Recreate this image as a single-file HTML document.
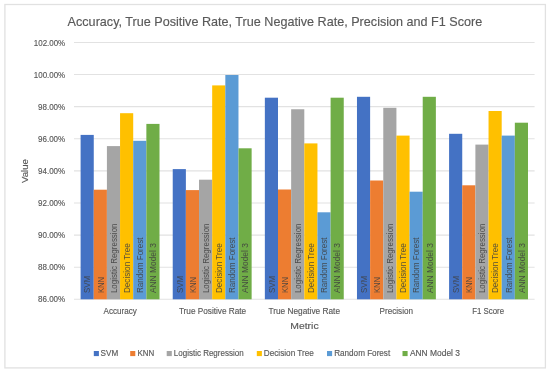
<!DOCTYPE html>
<html lang="en">
<head>
<meta charset="utf-8">
<title>Accuracy, True Positive Rate, True Negative Rate, Precision and F1 Score</title>
<style>
html,body{margin:0;padding:0;background:#fff;}
body{width:550px;height:372px;overflow:hidden;}
svg{display:block;}
text{font-family:"Liberation Sans",sans-serif;fill:#595959;stroke:#595959;stroke-width:0.15px;}
.t{font-size:12.6px;}
.ax{font-size:8.7px;}
.at{font-size:9.5px;}
.dl{font-size:8.7px;fill:#404040;fill-opacity:0.88;stroke:none;}
</style>
</head>
<body>
<svg width="550" height="372" viewBox="0 0 550 372">
<rect x="0" y="0" width="550" height="372" fill="#ffffff"/>
<rect x="4.9" y="4.5" width="540.5" height="363.4" fill="#ffffff" stroke="#E1E1E1" stroke-width="1.3"/>
<text class="t" x="67.6" y="25.7" textLength="414.7" lengthAdjust="spacingAndGlyphs">Accuracy, True Positive Rate, True Negative Rate, Precision and F1 Score</text>
<g stroke="#E2E2E2" stroke-width="1.1">
<line x1="74.0" y1="42.45" x2="534.6" y2="42.45"/>
<line x1="74.0" y1="74.56" x2="534.6" y2="74.56"/>
<line x1="74.0" y1="106.66" x2="534.6" y2="106.66"/>
<line x1="74.0" y1="138.77" x2="534.6" y2="138.77"/>
<line x1="74.0" y1="170.88" x2="534.6" y2="170.88"/>
<line x1="74.0" y1="202.98" x2="534.6" y2="202.98"/>
<line x1="74.0" y1="235.09" x2="534.6" y2="235.09"/>
<line x1="74.0" y1="267.19" x2="534.6" y2="267.19"/>
<line x1="74.0" y1="299.30" x2="534.6" y2="299.30"/>
</g>
<text class="ax" x="33.8" y="45.60" textLength="31.4" lengthAdjust="spacingAndGlyphs">102.00%</text>
<text class="ax" x="33.8" y="77.71" textLength="31.4" lengthAdjust="spacingAndGlyphs">100.00%</text>
<text class="ax" x="38.0" y="109.81" textLength="27.2" lengthAdjust="spacingAndGlyphs">98.00%</text>
<text class="ax" x="38.0" y="141.92" textLength="27.2" lengthAdjust="spacingAndGlyphs">96.00%</text>
<text class="ax" x="38.0" y="174.03" textLength="27.2" lengthAdjust="spacingAndGlyphs">94.00%</text>
<text class="ax" x="38.0" y="206.13" textLength="27.2" lengthAdjust="spacingAndGlyphs">92.00%</text>
<text class="ax" x="38.0" y="238.24" textLength="27.2" lengthAdjust="spacingAndGlyphs">90.00%</text>
<text class="ax" x="38.0" y="270.34" textLength="27.2" lengthAdjust="spacingAndGlyphs">88.00%</text>
<text class="ax" x="38.0" y="302.45" textLength="27.2" lengthAdjust="spacingAndGlyphs">86.00%</text>
<g>
<rect x="80.61" y="134.90" width="13.15" height="164.40" fill="#4472C4"/>
<rect x="93.76" y="189.70" width="13.15" height="109.60" fill="#ED7D31"/>
<rect x="106.91" y="146.10" width="13.15" height="153.20" fill="#A5A5A5"/>
<rect x="120.06" y="113.20" width="13.15" height="186.10" fill="#FFC000"/>
<rect x="133.21" y="140.80" width="13.15" height="158.50" fill="#5B9BD5"/>
<rect x="146.36" y="123.90" width="13.15" height="175.40" fill="#70AD47"/>
</g>
<g>
<rect x="172.73" y="169.10" width="13.15" height="130.20" fill="#4472C4"/>
<rect x="185.88" y="190.10" width="13.15" height="109.20" fill="#ED7D31"/>
<rect x="199.03" y="179.70" width="13.15" height="119.60" fill="#A5A5A5"/>
<rect x="212.18" y="85.40" width="13.15" height="213.90" fill="#FFC000"/>
<rect x="225.33" y="75.00" width="13.15" height="224.30" fill="#5B9BD5"/>
<rect x="238.48" y="148.30" width="13.15" height="151.00" fill="#70AD47"/>
</g>
<g>
<rect x="264.85" y="97.70" width="13.15" height="201.60" fill="#4472C4"/>
<rect x="278.00" y="189.50" width="13.15" height="109.80" fill="#ED7D31"/>
<rect x="291.15" y="109.25" width="13.15" height="190.05" fill="#A5A5A5"/>
<rect x="304.30" y="143.40" width="13.15" height="155.90" fill="#FFC000"/>
<rect x="317.45" y="212.30" width="13.15" height="87.00" fill="#5B9BD5"/>
<rect x="330.60" y="97.70" width="13.15" height="201.60" fill="#70AD47"/>
</g>
<g>
<rect x="356.97" y="96.80" width="13.15" height="202.50" fill="#4472C4"/>
<rect x="370.12" y="180.50" width="13.15" height="118.80" fill="#ED7D31"/>
<rect x="383.27" y="107.80" width="13.15" height="191.50" fill="#A5A5A5"/>
<rect x="396.42" y="135.60" width="13.15" height="163.70" fill="#FFC000"/>
<rect x="409.57" y="191.70" width="13.15" height="107.60" fill="#5B9BD5"/>
<rect x="422.72" y="96.80" width="13.15" height="202.50" fill="#70AD47"/>
</g>
<g>
<rect x="449.09" y="133.80" width="13.15" height="165.50" fill="#4472C4"/>
<rect x="462.24" y="185.30" width="13.15" height="114.00" fill="#ED7D31"/>
<rect x="475.39" y="144.60" width="13.15" height="154.70" fill="#A5A5A5"/>
<rect x="488.54" y="111.00" width="13.15" height="188.30" fill="#FFC000"/>
<rect x="501.69" y="135.60" width="13.15" height="163.70" fill="#5B9BD5"/>
<rect x="514.84" y="122.70" width="13.15" height="176.60" fill="#70AD47"/>
</g>
<text class="dl" transform="translate(90.44,293.1) rotate(-90)" textLength="17.2" lengthAdjust="spacingAndGlyphs">SVM</text>
<text class="dl" transform="translate(103.59,293.1) rotate(-90)" textLength="16.3" lengthAdjust="spacingAndGlyphs">KNN</text>
<text class="dl" transform="translate(116.73,293.1) rotate(-90)" textLength="69.6" lengthAdjust="spacingAndGlyphs">Logistic Regression</text>
<text class="dl" transform="translate(129.88,293.1) rotate(-90)" textLength="49.9" lengthAdjust="spacingAndGlyphs">Decision Tree</text>
<text class="dl" transform="translate(143.03,293.1) rotate(-90)" textLength="55.7" lengthAdjust="spacingAndGlyphs">Random Forest</text>
<text class="dl" transform="translate(156.19,293.1) rotate(-90)" textLength="50.0" lengthAdjust="spacingAndGlyphs">ANN Model 3</text>
<text class="dl" transform="translate(182.56,293.1) rotate(-90)" textLength="17.2" lengthAdjust="spacingAndGlyphs">SVM</text>
<text class="dl" transform="translate(195.71,293.1) rotate(-90)" textLength="16.3" lengthAdjust="spacingAndGlyphs">KNN</text>
<text class="dl" transform="translate(208.86,293.1) rotate(-90)" textLength="69.6" lengthAdjust="spacingAndGlyphs">Logistic Regression</text>
<text class="dl" transform="translate(222.00,293.1) rotate(-90)" textLength="49.9" lengthAdjust="spacingAndGlyphs">Decision Tree</text>
<text class="dl" transform="translate(235.16,293.1) rotate(-90)" textLength="55.7" lengthAdjust="spacingAndGlyphs">Random Forest</text>
<text class="dl" transform="translate(248.31,293.1) rotate(-90)" textLength="50.0" lengthAdjust="spacingAndGlyphs">ANN Model 3</text>
<text class="dl" transform="translate(274.68,293.1) rotate(-90)" textLength="17.2" lengthAdjust="spacingAndGlyphs">SVM</text>
<text class="dl" transform="translate(287.82,293.1) rotate(-90)" textLength="16.3" lengthAdjust="spacingAndGlyphs">KNN</text>
<text class="dl" transform="translate(300.98,293.1) rotate(-90)" textLength="69.6" lengthAdjust="spacingAndGlyphs">Logistic Regression</text>
<text class="dl" transform="translate(314.12,293.1) rotate(-90)" textLength="49.9" lengthAdjust="spacingAndGlyphs">Decision Tree</text>
<text class="dl" transform="translate(327.28,293.1) rotate(-90)" textLength="55.7" lengthAdjust="spacingAndGlyphs">Random Forest</text>
<text class="dl" transform="translate(340.43,293.1) rotate(-90)" textLength="50.0" lengthAdjust="spacingAndGlyphs">ANN Model 3</text>
<text class="dl" transform="translate(366.80,293.1) rotate(-90)" textLength="17.2" lengthAdjust="spacingAndGlyphs">SVM</text>
<text class="dl" transform="translate(379.94,293.1) rotate(-90)" textLength="16.3" lengthAdjust="spacingAndGlyphs">KNN</text>
<text class="dl" transform="translate(393.10,293.1) rotate(-90)" textLength="69.6" lengthAdjust="spacingAndGlyphs">Logistic Regression</text>
<text class="dl" transform="translate(406.25,293.1) rotate(-90)" textLength="49.9" lengthAdjust="spacingAndGlyphs">Decision Tree</text>
<text class="dl" transform="translate(419.40,293.1) rotate(-90)" textLength="55.7" lengthAdjust="spacingAndGlyphs">Random Forest</text>
<text class="dl" transform="translate(432.55,293.1) rotate(-90)" textLength="50.0" lengthAdjust="spacingAndGlyphs">ANN Model 3</text>
<text class="dl" transform="translate(458.92,293.1) rotate(-90)" textLength="17.2" lengthAdjust="spacingAndGlyphs">SVM</text>
<text class="dl" transform="translate(472.06,293.1) rotate(-90)" textLength="16.3" lengthAdjust="spacingAndGlyphs">KNN</text>
<text class="dl" transform="translate(485.22,293.1) rotate(-90)" textLength="69.6" lengthAdjust="spacingAndGlyphs">Logistic Regression</text>
<text class="dl" transform="translate(498.37,293.1) rotate(-90)" textLength="49.9" lengthAdjust="spacingAndGlyphs">Decision Tree</text>
<text class="dl" transform="translate(511.52,293.1) rotate(-90)" textLength="55.7" lengthAdjust="spacingAndGlyphs">Random Forest</text>
<text class="dl" transform="translate(524.67,293.1) rotate(-90)" textLength="50.0" lengthAdjust="spacingAndGlyphs">ANN Model 3</text>
<text class="ax" x="103.6" y="313.8" textLength="33.3" lengthAdjust="spacingAndGlyphs">Accuracy</text>
<text class="ax" x="178.9" y="313.8" textLength="67.3" lengthAdjust="spacingAndGlyphs">True Positive Rate</text>
<text class="ax" x="268.5" y="313.8" textLength="71.5" lengthAdjust="spacingAndGlyphs">True Negative Rate</text>
<text class="ax" x="379.6" y="313.8" textLength="33.4" lengthAdjust="spacingAndGlyphs">Precision</text>
<text class="ax" x="472.2" y="313.8" textLength="31.8" lengthAdjust="spacingAndGlyphs">F1 Score</text>
<text class="at" x="290.3" y="329.1" textLength="28.3" lengthAdjust="spacingAndGlyphs">Metric</text>
<text class="at" transform="translate(28.3,183) rotate(-90)" textLength="23.8" lengthAdjust="spacingAndGlyphs">Value</text>
<rect x="93.8" y="351.0" width="5.1" height="5.1" fill="#4472C4"/>
<text class="ax" x="100.6" y="356.0" textLength="17.6" lengthAdjust="spacingAndGlyphs">SVM</text>
<rect x="130.2" y="351.0" width="5.1" height="5.1" fill="#ED7D31"/>
<text class="ax" x="137.4" y="356.0" textLength="16.8" lengthAdjust="spacingAndGlyphs">KNN</text>
<rect x="166.7" y="351.0" width="5.1" height="5.1" fill="#A5A5A5"/>
<text class="ax" x="173.8" y="356.0" textLength="69.8" lengthAdjust="spacingAndGlyphs">Logistic Regression</text>
<rect x="256.8" y="351.0" width="5.1" height="5.1" fill="#FFC000"/>
<text class="ax" x="263.8" y="356.0" textLength="50.1" lengthAdjust="spacingAndGlyphs">Decision Tree</text>
<rect x="327.0" y="351.0" width="5.1" height="5.1" fill="#5B9BD5"/>
<text class="ax" x="334.2" y="356.0" textLength="56.0" lengthAdjust="spacingAndGlyphs">Random Forest</text>
<rect x="402.5" y="351.0" width="5.1" height="5.1" fill="#70AD47"/>
<text class="ax" x="409.9" y="356.0" textLength="50.1" lengthAdjust="spacingAndGlyphs">ANN Model 3</text>
</svg>
</body>
</html>
